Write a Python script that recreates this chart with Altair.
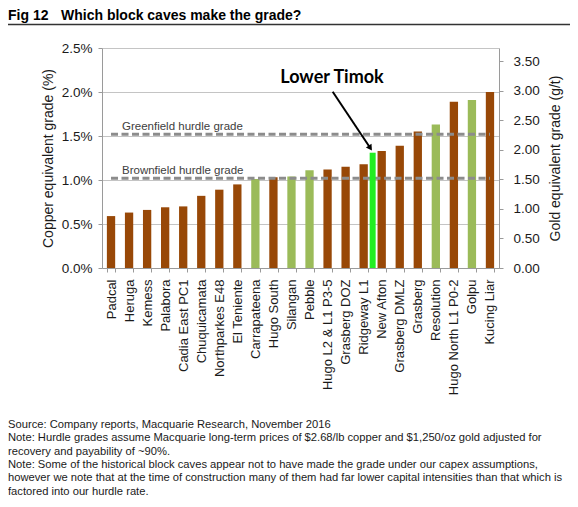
import altair as alt
import pandas as pd

# ---------------- data ----------------
mines = ["Padcal", "Heruga", "Kemess", "Palabora", "Cadia East PC1", "Chuquicamata",
         "Northparkes E48", "El Teniente", "Carrapateena", "Hugo South", "Silangan",
         "Pebble", "Hugo L2 & L1 P3-5", "Grasberg DOZ", "Ridgeway L1", "New Afton",
         "Grasberg DMLZ", "Grasberg", "Resolution", "Hugo North L1 P0-2", "Golpu",
         "Kucing Liar"]
cu_grade = [0.59, 0.63, 0.66, 0.69, 0.70, 0.82, 0.89, 0.95, 1.01, 1.03, 1.04,
            1.11, 1.12, 1.15, 1.18, 1.33, 1.39, 1.55, 1.63, 1.89, 1.91, 2.00]
bar_group = ["brown", "brown", "brown", "brown", "brown", "brown", "brown", "brown",
             "green", "brown", "green", "green", "brown", "brown", "brown", "brown",
             "brown", "brown", "green", "brown", "green", "brown"]

timok_label = ["Lower Timok"]
timok_anchor = ["Ridgeway L1"]
timok_grade = [1.31]

hurdle_names = ["Greenfield hurdle grade", "Brownfield hurdle grade"]
hurdle_grades = [1.52, 1.02]

cu_ticks = [0.0, 0.5, 1.0, 1.5, 2.0, 2.5]
gold_ticks = [0.0, 0.5, 1.0, 1.5, 2.0, 2.5, 3.0, 3.5]
gold_axis_max = 3.72

title_fig = "Fig 12"
title_text = "Which block caves make the grade?"
footnotes = [
    "Source: Company reports, Macquarie Research, November 2016",
    "Note: Hurdle grades assume Macquarie long-term prices of $2.68/lb copper and $1,250/oz gold adjusted for",
    "recovery and payability of ~90%.",
    "Note: Some of the historical block caves appear not to have made the grade under our capex assumptions,",
    "however we note that at the time of construction many of them had far lower capital intensities than that which is",
    "factored into our hurdle rate.",
]

FONT = "Liberation Sans"
BROWN = "#984807"
GREEN = "#9BBB59"
LIME = "#22EE22"
AXIS_GREY = "#9A9A9A"

# ---------------- encodings (shared by every layer so axes merge cleanly) ----------------
x_enc = alt.X("mine:N", sort=mines,
              scale=alt.Scale(paddingInner=0.54, paddingOuter=0.27),
              axis=alt.Axis(title="", labelAngle=270, labelFontSize=13, labelPadding=7,
                            labelColor="#1a1a1a", tickBand="extent", tickSize=4,
                            tickColor=AXIS_GREY, domainColor=AXIS_GREY, labelFont=FONT))

y_left = alt.Y("grade:Q", scale=alt.Scale(domain=[0, 2.5], nice=False),
               axis=alt.Axis(values=cu_ticks,
                             labelExpr="format(datum.value, '.1f') + '%'",
                             grid=True, gridColor="#C4C4C4", domainColor=AXIS_GREY,
                             tickColor=AXIS_GREY, tickSize=4, labelPadding=6,
                             labelFontSize=13.5, labelColor="#1a1a1a", labelFont=FONT,
                             title="Copper equivalent grade (%)", titleFontSize=14,
                             titleFontWeight="normal", titleColor="#1a1a1a",
                             titleFont=FONT, titleX=-54, titleY=110, titleAngle=270,
                             titleAlign="center", titleBaseline="middle"))

df = pd.DataFrame({"mine": mines, "grade": cu_grade, "group": bar_group})

bars = alt.Chart(df).mark_bar().encode(
    x=x_enc, y=y_left,
    color=alt.Color("group:N", scale=alt.Scale(domain=["brown", "green"], range=[BROWN, GREEN]),
                    legend=None))

timok = alt.Chart(pd.DataFrame({"mine": timok_anchor, "grade": timok_grade,
                                "label": timok_label})).mark_bar(
    width=6, xOffset=9, color=LIME).encode(x=x_enc, y=y_left)

hurdle_rows = [{"hurdle": n, "mine": m, "grade": g}
               for n, g in zip(hurdle_names, hurdle_grades)
               for m in (mines[0], mines[-1])]
lines = alt.Chart(pd.DataFrame(hurdle_rows)).mark_line(
    strokeDash=[7, 3.5], strokeWidth=3, color="#8C8C8C").encode(
    x=x_enc, y=y_left, detail="hurdle:N")

hurdle_text = alt.Chart(pd.DataFrame({"hurdle": hurdle_names, "grade": hurdle_grades})).mark_text(
    align="left", baseline="alphabetic", dy=-4.5, fontSize=11.5, color="#404040", font=FONT
).encode(x=alt.value(20), y=y_left, text="hurdle:N")

# annotation: Lower Timok label + arrow
timok_text = alt.Chart(pd.DataFrame({"label": timok_label})).mark_text(
    align="center", baseline="alphabetic", fontSize=18, fontWeight="bold", font="Lato",
    color="#000000").encode(x=alt.value(230), y=alt.value(34.5), text="label:N")
arrow_line = alt.Chart(pd.DataFrame({"label": timok_label})).mark_rule(
    color="#000000", strokeWidth=2).encode(
    x=alt.value(230.7), y=alt.value(43.7), x2=alt.value(268.6), y2=alt.value(100.5))
arrow_head = alt.Chart(pd.DataFrame({"label": timok_label})).mark_point(
    shape="triangle-up", angle=147, size=45, filled=True, color="#000000", opacity=1).encode(
    x=alt.value(268.3), y=alt.value(100.0))

# title and notes
title_layers = [
    alt.Chart(pd.DataFrame({"t": [title_fig]})).mark_text(
        align="left", baseline="alphabetic", fontSize=14, fontWeight="bold", font=FONT,
        color="#000000").encode(x=alt.value(-94), y=alt.value(-28.5), text="t:N"),
    alt.Chart(pd.DataFrame({"t": [title_text]})).mark_text(
        align="left", baseline="alphabetic", fontSize=14, fontWeight="bold", font=FONT,
        color="#000000").encode(x=alt.value(-41), y=alt.value(-28.5), text="t:N"),
    alt.Chart(pd.DataFrame({"t": [title_text]})).mark_rule(
        color="#333333", strokeWidth=1.5).encode(
        x=alt.value(-94), x2=alt.value(468), y=alt.value(-23.5)),
]
note_layers = []
for i, line in enumerate(footnotes):
    note_layers.append(
        alt.Chart(pd.DataFrame({"t": [line]})).mark_text(
            align="left", baseline="alphabetic", fontSize=11.2, font=FONT, color="#1a1a1a"
        ).encode(x=alt.value(-94), y=alt.value(380 + i * 13.3), text="t:N"))

left = alt.layer(bars, lines, timok, hurdle_text, timok_text, arrow_line, arrow_head,
                 *title_layers, *note_layers)

gold_layer = alt.Chart(pd.DataFrame({"gold": gold_ticks})).mark_rule(opacity=0).encode(
    y=alt.Y("gold:Q", scale=alt.Scale(domain=[0, gold_axis_max], nice=False),
            axis=alt.Axis(orient="right", values=gold_ticks, format=".2f", grid=False,
                          domainColor=AXIS_GREY, tickColor=AXIS_GREY, tickSize=4,
                          labelPadding=10, labelFontSize=13.5, labelColor="#1a1a1a",
                          labelFont=FONT, title="Gold equivalent grade (g/t)",
                          titleFontSize=14, titleFontWeight="normal", titleColor="#1a1a1a",
                          titleFont=FONT, titleX=56, titleY=110, titleAngle=270,
                          titleAlign="center", titleBaseline="middle")))

chart = alt.layer(left, gold_layer).resolve_scale(y="independent").properties(
    width=397, height=220,
    padding={"left": 94, "top": 40, "right": 71, "bottom": 231},
    autosize=alt.AutoSizeParams(type="none"),
    background="#ffffff",
).configure_view(strokeWidth=0)

chart.save("out.html", embed_options={"renderer": "svg", "actions": False})
